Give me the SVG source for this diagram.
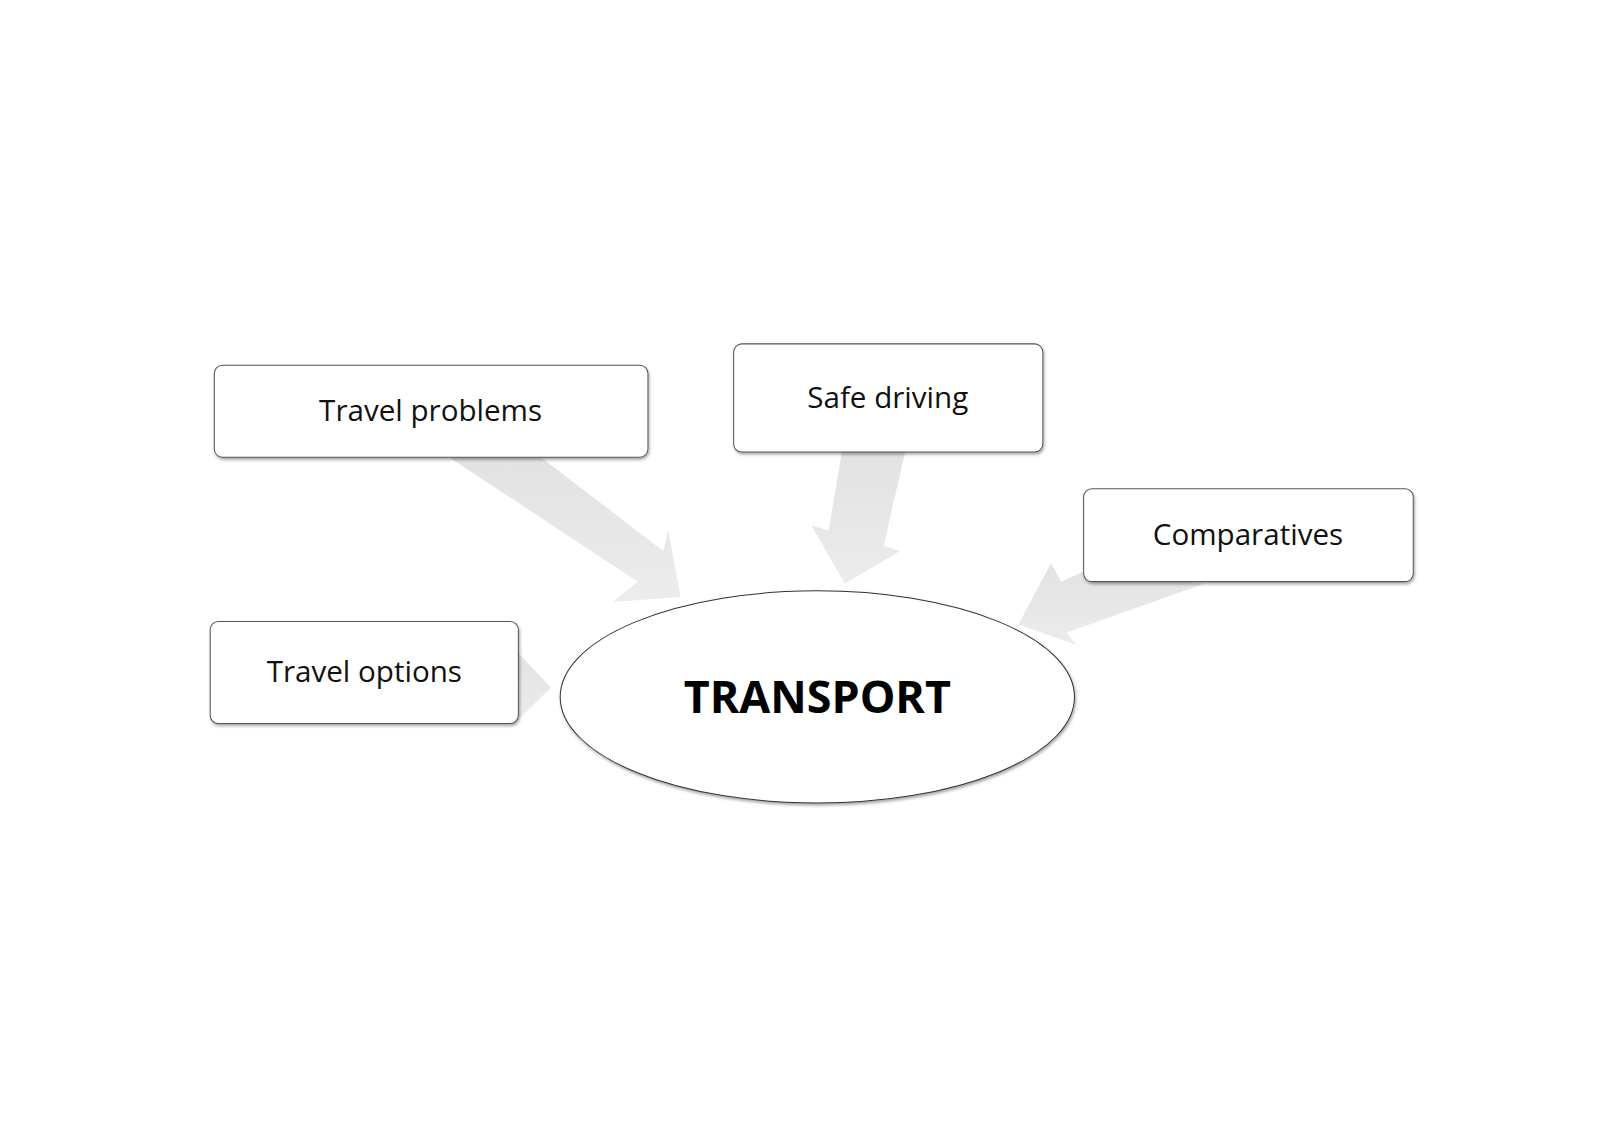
<svg xmlns="http://www.w3.org/2000/svg" width="1600" height="1131" viewBox="0 0 1600 1131">
<defs>
<linearGradient id="ag" x1="0" y1="0" x2="0" y2="1"><stop offset="0" stop-color="#e2e2e2"/><stop offset="1" stop-color="#ececec"/></linearGradient>
<filter id="sh" x="-10%" y="-10%" width="130%" height="140%"><feDropShadow dx="1" dy="2" stdDeviation="1.5" flood-color="#000" flood-opacity="0.35"/></filter>
</defs>
<style>
.box{fill:#fff;stroke:#555;stroke-width:1;filter:url(#sh)}
.arr{fill:url(#ag);stroke:none}
.t{font-family:"Open Sans","Liberation Sans",sans-serif;font-size:29px;fill:#111;text-anchor:middle}
.big{font-family:"Open Sans","Liberation Sans",sans-serif;font-size:44px;font-weight:bold;fill:#000;text-anchor:middle}
</style>
<rect width="1600" height="1131" fill="#fff"/>
<g transform="scale(1.0204)">
<g id="connectors">
<polygon class="arr" points="440,448 530,448 650,540 655,520 667,585 600,590 625,570"/>
<polygon class="arr" points="825,443 887,443 866,535 882,540 828,572 795,515 812,520"/>
<polygon class="arr" points="1062,560 1180,572 1045,620 1055,632 998,612 1030,552 1040,570"/>
<polygon class="arr" points="508,640 540,674 508,705"/>
</g>
<g id="transport">
<ellipse cx="801" cy="683" rx="252" ry="104" fill="#fff" stroke="#333" stroke-width="1" filter="url(#sh)"/>
<text class="big" x="801" y="699">TRANSPORT</text>
</g>
<g id="travel-problems"><rect class="box" x="210" y="358" width="425" height="90" rx="8"/><text class="t" x="422" y="413">Travel problems</text></g>
<g id="safe-driving"><rect class="box" x="719" y="337" width="303" height="106" rx="8"/><text class="t" x="870" y="400">Safe driving</text></g>
<g id="comparatives"><rect class="box" x="1062" y="479" width="323" height="91" rx="8"/><text class="t" x="1223" y="534">Comparatives</text></g>
<g id="travel-options"><rect class="box" x="206" y="609" width="302" height="100" rx="8"/><text class="t" x="357" y="668">Travel options</text></g>
</g>
</svg>
